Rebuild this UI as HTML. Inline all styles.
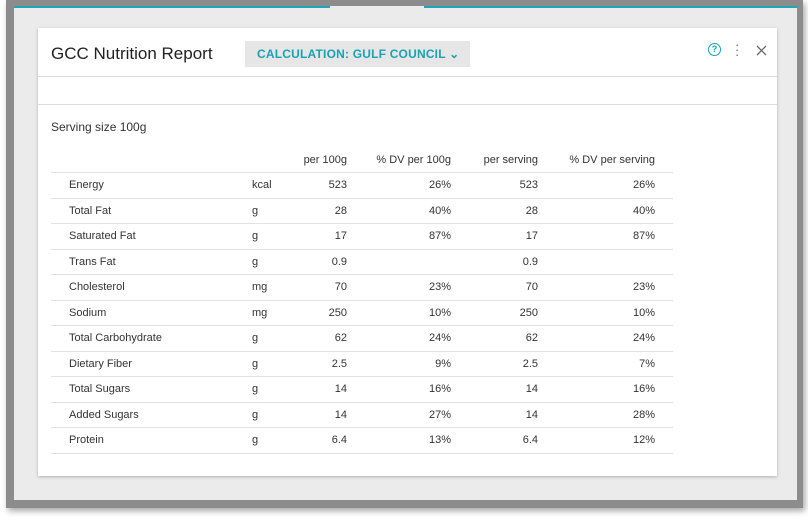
<!DOCTYPE html>
<html><head><style>
body{margin:0;width:808px;height:521px;background:#fff;font-family:"Liberation Sans",sans-serif;position:relative;overflow:hidden}
.frame{position:absolute;left:6px;top:0;width:797px;height:508px;background:#8c8c8c;box-shadow:2px 3px 6px rgba(0,0,0,.35)}
.inner{position:absolute;left:14px;top:6px;width:783px;height:494px;background:#ebebeb}
.tl{position:absolute;top:6px;height:2px;background:#1ea7b8}
.card{position:absolute;left:38px;top:28px;width:739px;height:448px;background:#fff;box-shadow:0 1px 3px rgba(0,0,0,.25)}
.title{position:absolute;left:13px;top:16px;font-size:17px;color:#222}
.btn{position:absolute;left:207px;top:13px;width:225px;height:26px;background:#e6e6e6;color:#17a2b5;font-size:12px;font-weight:bold;line-height:26px;text-indent:12px;letter-spacing:.2px}
.hl{position:absolute;left:0;width:739px;height:1px;background:#ddd}
.ss{position:absolute;left:13px;top:92px;font-size:12px;color:#333}
table{position:absolute;left:13px;top:120px;border-collapse:collapse;font-size:11px;color:#333;width:622px}
td{height:24.5px;border-bottom:1px solid #e2e2e2;padding:0}
tr.h td{border-bottom:1px solid #e2e2e2;height:24px}
td.r{text-align:right}
</style></head><body>
<div class="frame"></div>
<div class="inner"></div>
<div class="tl" style="left:14px;width:316px"></div>
<div class="tl" style="left:424px;width:373px"></div>
<div class="card">
<div class="title">GCC Nutrition Report</div>
<div class="btn">CALCULATION: GULF COUNCIL &#8964;</div>
<div style="position:absolute;left:670px;top:15px;width:11px;height:11px;border:1.5px solid #17a2b5;border-radius:50%;font-size:9px;color:#17a2b5;text-align:center;line-height:11px;font-weight:bold">?</div>
<div style="position:absolute;left:697px;top:14px;font-size:13px;color:#666;line-height:5px;">·<br>·<br>·</div>
<svg style="position:absolute;left:718px;top:17px" width="11" height="11"><path d="M1 1L10 10M10 1L1 10" stroke="#666" stroke-width="1.3"/></svg>
<div class="hl" style="top:48px"></div>
<div class="hl" style="top:76px"></div>
<div class="ss">Serving size 100g</div>
<table>
<colgroup><col style="width:201px"><col style="width:50px"><col style="width:45px"><col style="width:104px"><col style="width:87px"><col style="width:117px"><col></colgroup>
<tr class="h"><td></td><td></td><td class="r">per 100g</td><td class="r">% DV per 100g</td><td class="r">per serving</td><td class="r">% DV per serving</td><td></td></tr>
<tr><td style="padding-left:18px">Energy</td><td>kcal</td><td class="r">523</td><td class="r">26%</td><td class="r">523</td><td class="r">26%</td><td></td></tr>
<tr><td style="padding-left:18px">Total Fat</td><td>g</td><td class="r">28</td><td class="r">40%</td><td class="r">28</td><td class="r">40%</td><td></td></tr>
<tr><td style="padding-left:18px">Saturated Fat</td><td>g</td><td class="r">17</td><td class="r">87%</td><td class="r">17</td><td class="r">87%</td><td></td></tr>
<tr><td style="padding-left:18px">Trans Fat</td><td>g</td><td class="r">0.9</td><td class="r"></td><td class="r">0.9</td><td class="r"></td><td></td></tr>
<tr><td style="padding-left:18px">Cholesterol</td><td>mg</td><td class="r">70</td><td class="r">23%</td><td class="r">70</td><td class="r">23%</td><td></td></tr>
<tr><td style="padding-left:18px">Sodium</td><td>mg</td><td class="r">250</td><td class="r">10%</td><td class="r">250</td><td class="r">10%</td><td></td></tr>
<tr><td style="padding-left:18px">Total Carbohydrate</td><td>g</td><td class="r">62</td><td class="r">24%</td><td class="r">62</td><td class="r">24%</td><td></td></tr>
<tr><td style="padding-left:18px">Dietary Fiber</td><td>g</td><td class="r">2.5</td><td class="r">9%</td><td class="r">2.5</td><td class="r">7%</td><td></td></tr>
<tr><td style="padding-left:18px">Total Sugars</td><td>g</td><td class="r">14</td><td class="r">16%</td><td class="r">14</td><td class="r">16%</td><td></td></tr>
<tr><td style="padding-left:18px">Added Sugars</td><td>g</td><td class="r">14</td><td class="r">27%</td><td class="r">14</td><td class="r">28%</td><td></td></tr>
<tr><td style="padding-left:18px">Protein</td><td>g</td><td class="r">6.4</td><td class="r">13%</td><td class="r">6.4</td><td class="r">12%</td><td></td></tr>
</table>
</div>
</body></html>
